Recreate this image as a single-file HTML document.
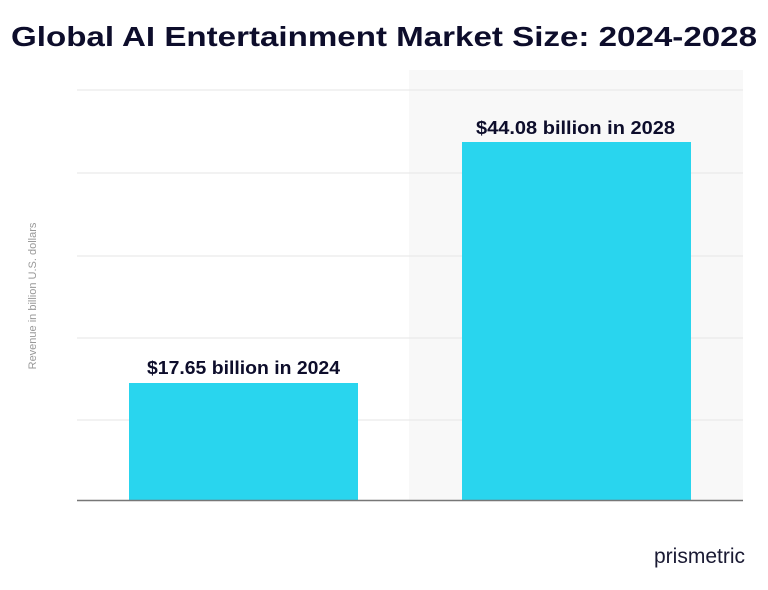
<!DOCTYPE html>
<html><head><meta charset="utf-8"><style>
body{margin:0;width:768px;height:585px;background:#fff;overflow:hidden;font-family:"Liberation Sans",sans-serif}
</style></head><body>
<svg width="768" height="585" xmlns="http://www.w3.org/2000/svg">
<rect x="409" y="70" width="334" height="430" fill="#f8f8f8"/>
<g stroke="#e6e6e6" stroke-width="1">
<line x1="77" y1="90" x2="743" y2="90"/>
<line x1="77" y1="173" x2="743" y2="173"/>
<line x1="77" y1="256" x2="743" y2="256"/>
<line x1="77" y1="338" x2="743" y2="338"/>
<line x1="77" y1="420" x2="743" y2="420"/>
</g>
<rect x="129" y="383" width="229" height="117" fill="#29d5ee"/>
<rect x="462" y="142" width="229" height="358" fill="#29d5ee"/>
<line x1="77" y1="500.5" x2="743" y2="500.5" stroke="#777" stroke-width="1.5"/>
<text x="11" y="46" font-size="28" font-weight="bold" fill="#0d0d2b" textLength="746" lengthAdjust="spacingAndGlyphs">Global AI Entertainment Market Size: 2024-2028</text>
<text x="147" y="374" font-size="18" font-weight="bold" fill="#0d0d2b" textLength="193" lengthAdjust="spacingAndGlyphs">$17.65 billion in 2024</text>
<text x="476" y="134" font-size="18" font-weight="bold" fill="#0d0d2b" textLength="199" lengthAdjust="spacingAndGlyphs">$44.08 billion in 2028</text>
<text transform="translate(36,296) rotate(-90)" text-anchor="middle" font-size="11" fill="#999">Revenue in billion U.S. dollars</text>
<text x="745" y="563" text-anchor="end" font-size="21" fill="#1a1a33">prismetric</text>
</svg>
</body></html>
